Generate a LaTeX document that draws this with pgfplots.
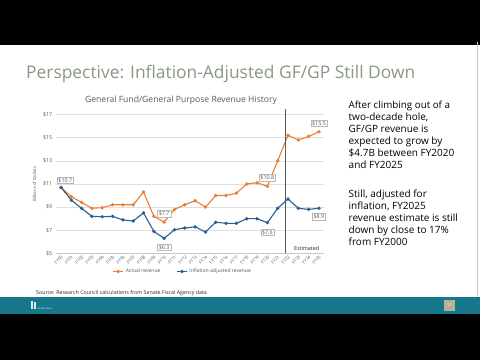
\documentclass[border=0pt]{standalone}
\usepackage{pgfplots}
\pgfplotsset{compat=1.18}
\usepackage{fontspec}
\setmainfont{Open Sans}
\definecolor{orng}{HTML}{ED7D31}
\definecolor{blu}{HTML}{2A5F8F}
\definecolor{teal1}{HTML}{17788C}
\definecolor{ttl}{HTML}{8A9884}
\definecolor{gtxt}{HTML}{595959}
\definecolor{pgbox}{HTML}{B9AF92}
\begin{document}
\begin{tikzpicture}[x=1pt,y=1pt]
\fill[black] (0,0) rectangle (480,360);
\fill[white] (0,46) rectangle (480,315);
\fill[teal1] (0,46) rectangle (480,63);
\draw[gray!45, line width=0.6pt] (477.5,63) -- (477.5,318);
% slide title
\node[anchor=base west, inner sep=0pt, text=ttl] at (26,281.7)
  {\resizebox{389pt}{!}{\fontsize{18}{20}\selectfont Perspective: Inflation-Adjusted GF/GP Still Down}};
% chart title
\node[text=gtxt, inner sep=0pt] at (181,260) {\fontsize{8.6}{10}\selectfont General Fund/General Purpose Revenue History};
% right text
\node[anchor=north west, inner sep=0pt, align=left] at (348.5,259)
  {\fontsize{9.8}{12.6}\selectfont After climbing out of a\\ two-decade hole,\\ GF/GP revenue is\\ expected to grow by\\ \$4.7B between FY2020\\ and FY2025\\[16.4pt]
  Still, adjusted for\\ inflation, FY2025\\ revenue estimate is still\\ down by close to 17\%\\ from FY2000};
% source
\node[anchor=west, inner sep=0pt, text=black!85] at (36,67) {\fontsize{5.3}{6}\selectfont Source: Research Council calculations from Senate Fiscal Agency data};
% footer logo
\fill[white!85!teal1] (31,51) rectangle (33,59);
\fill[white!85!teal1] (34,51) rectangle (35.5,58);
\node[anchor=south west, inner sep=0pt, text=white, align=left] at (37,50.5)
  {\fontsize{4}{4}\selectfont CITIZENS\\[-0.5pt]\fontsize{2.2}{2.4}\selectfont RESEARCH COUNCIL\\[-0.5pt]\fontsize{2.2}{2.4}\selectfont OF MICHIGAN};
\fill[pgbox] (444,49) rectangle (455,60);
\node[text=white, inner sep=0pt] at (449.5,54.5) {\fontsize{4}{4}\selectfont 11};

\begin{axis}[
  at={(54.1,92)}, anchor=south west,
  scale only axis, width=268.3pt, height=139pt,
  xmin=-0.5, xmax=25.5, ymin=5, ymax=17,
  clip=false,
  axis x line*=bottom, axis y line*=left,
  x axis line style={draw=gray!45, line width=0.6pt, -},
  y axis line style={draw=none, -},
  major tick length=0pt,
  ymajorgrids, grid style={gray!25, line width=0.5pt},
  xtick={0,...,25},
  xticklabels={FY00,FY01,FY02,FY03,FY04,FY05,FY06,FY07,FY08,FY09,FY10,FY11,FY12,FY13,FY14,FY15,FY16,FY17,FY18,FY19,FY20,FY21,FY22,FY23,FY24,FY25},
  x tick label style={rotate=45, anchor=north east, font=\fontsize{4.3}{5}\selectfont, text=gtxt, inner sep=1pt},
  ytick={5,7,...,17},
  /pgf/number format/assume math mode=true,
  yticklabel={\$\pgfmathprintnumber{\tick}},
  y tick label style={font=\fontsize{5.4}{6}\selectfont, text=gtxt},
  ylabel={Billions of Dollars},
  ylabel style={font=\fontsize{4.3}{5}\selectfont, text=gtxt},
  legend style={at={(0.473,-0.13)}, anchor=center, draw=none, fill=none,
    font=\fontsize{5}{6}\selectfont, text=gtxt, legend columns=2,
    /tikz/every even column/.append style={column sep=14pt}},
  legend image code/.code={\draw[#1, mark repeat=2, mark phase=2] plot coordinates {(0pt,0pt) (5pt,0pt) (10pt,0pt)};},
]
\addplot[orng, line width=1.1pt, mark=*, mark size=1.1pt] coordinates {
(0,10.7)(1,9.9)(2,9.4)(3,8.9)(4,8.95)(5,9.2)(6,9.2)(7,9.2)(8,10.3)(9,8.2)
(10,7.7)(11,8.8)(12,9.2)(13,9.55)(14,9.0)(15,10.0)(16,10.0)(17,10.2)(18,11.0)(19,11.1)
(20,10.8)(21,13.0)(22,15.2)(23,14.8)(24,15.1)(25,15.5)};
\addlegendentry{Actual revenue}
\addplot[blu, line width=1.1pt, mark=*, mark size=1.1pt] coordinates {
(0,10.7)(1,9.6)(2,8.9)(3,8.2)(4,8.17)(5,8.2)(6,7.9)(7,7.8)(8,8.5)(9,6.9)
(10,6.3)(11,7.05)(12,7.2)(13,7.3)(14,6.85)(15,7.7)(16,7.6)(17,7.6)(18,8.0)(19,8.0)
(20,7.65)(21,8.9)(22,9.7)(23,8.9)(24,8.8)(25,8.9)};
\addlegendentry{Inflation-adjusted revenue}
% estimated divider
\addplot[forget plot, gray!70!black, line width=0.6pt] coordinates {(21.7,5)(21.7,17.45)};
% data labels above
\addplot[forget plot, draw=none, mark=none, nodes near coords, point meta=explicit symbolic,
  nodes near coords style={anchor=center, yshift=8.6pt, fill=white, draw=gray!55, inner sep=1.2pt,
    font=\fontsize{5.4}{6}\selectfont, text=gtxt}]
  coordinates {(10,7.7)[\$7.7] (20,10.8)[\$10.8] (25,15.5)[\$15.5]};
\addplot[forget plot, draw=none, mark=none, nodes near coords, point meta=explicit symbolic,
  nodes near coords style={anchor=center, yshift=7.3pt, xshift=4.4pt, fill=white, draw=gray!55, inner sep=1.2pt,
    font=\fontsize{5.4}{6}\selectfont, text=gtxt}]
  coordinates {(0,10.7)[\$10.7]};
% data labels below
\addplot[forget plot, draw=none, mark=none, nodes near coords, point meta=explicit symbolic,
  nodes near coords style={anchor=center, yshift=-8.8pt, fill=white, draw=gray!55, inner sep=1.2pt,
    font=\fontsize{5.4}{6}\selectfont, text=gtxt}]
  coordinates {(10,6.3)[\$6.3] (20,7.6)[\$7.6] (25,8.9)[\$8.9]};
\node[anchor=center, inner sep=0pt, text=black!85] at (axis cs:23.8,5.45) {\fontsize{5.4}{6}\selectfont Estimated};
\end{axis}
\end{tikzpicture}
\end{document}
